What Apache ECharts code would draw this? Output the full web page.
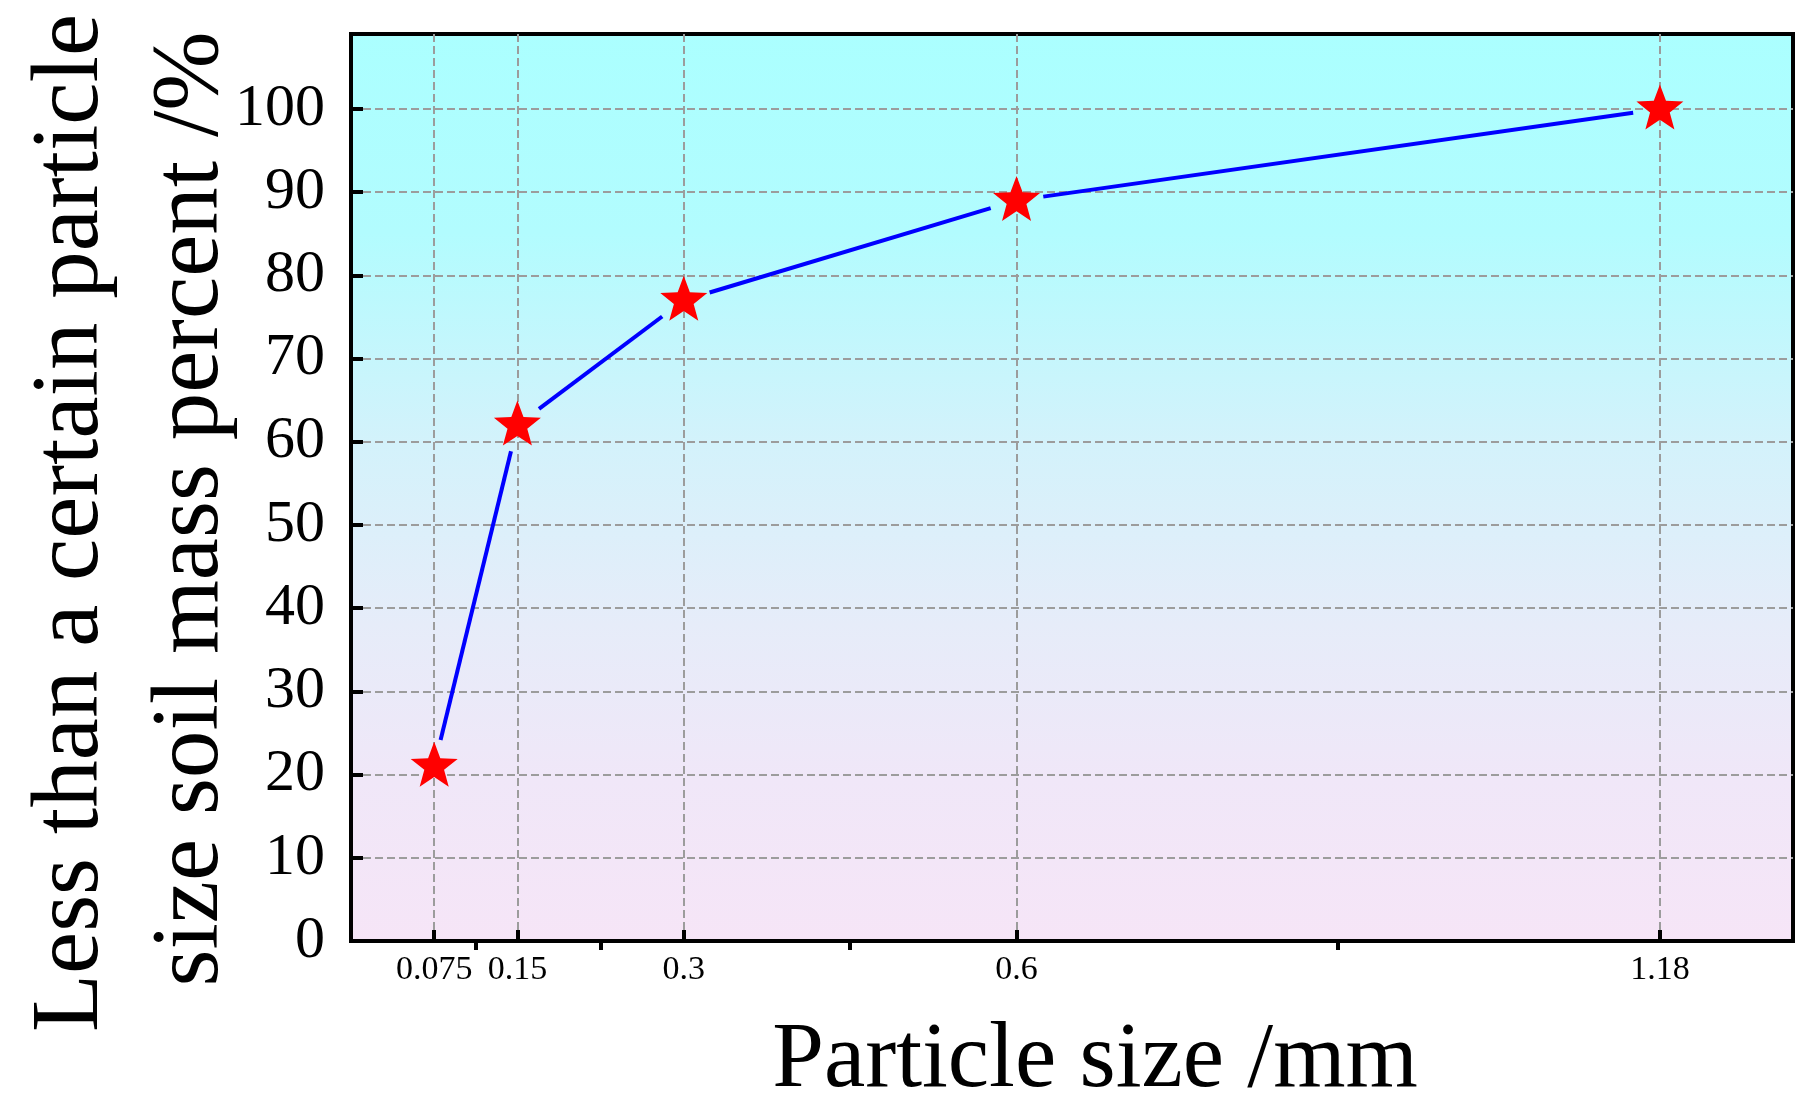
<!DOCTYPE html>
<html>
<head>
<meta charset="utf-8">
<script src="https://cdn.jsdelivr.net/npm/echarts@6/dist/echarts.min.js"></script>
<style>
html,body{margin:0;padding:0;background:#fff;}
#chart{width:1811px;height:1110px;}
</style>
</head>
<body>
<div id="chart"></div>
<script>
// ---- data ----
const particleSizes = [0.075, 0.15, 0.3, 0.6, 1.18];
const passingPercent = [21, 62, 77, 89, 100];
const xTickValues = [0.075, 0.15, 0.3, 0.6, 1.18];
const xMinorTickValues = [0.1125, 0.225, 0.45, 0.89];
const xTickLabels = ['0.075', '0.15', '0.3', '0.6', '1.18'];
const xTitle = 'Particle size /mm';
const yTitleLines = ['Less than a certain particle', 'size soil mass percent /%'];

// ---- styling helpers ----
const FONT = '"Liberation Serif", "Times New Roman", serif';
function starPath(inner) {
  const pts = [];
  for (let i = 0; i < 10; i++) {
    const r = i % 2 === 0 ? 1 : inner;
    const a = -Math.PI / 2 + i * Math.PI / 5;
    pts.push((r * Math.cos(a)).toFixed(4) + ' ' + (r * Math.sin(a)).toFixed(4));
  }
  return 'path://M' + pts.join(' L') + ' Z';
}

const points = particleSizes.map((s, i) => [s, passingPercent[i]]);
const segments = particleSizes.slice(0, -1).map((s, i) =>
  [s, passingPercent[i], particleSizes[i + 1], passingPercent[i + 1]]);

const GAP = 27;
const chart = echarts.init(document.getElementById('chart'));
chart.setOption({
  backgroundColor: '#ffffff',
  animation: false,
  grid: {
    left: 351, right: 18, top: 34, bottom: 169,
    show: true,
    borderColor: '#000', borderWidth: 4,
    backgroundColor: new echarts.graphic.LinearGradient(0, 0, 0, 1, [
      { offset: 0, color: '#abffff' },
      { offset: 0.22, color: '#b2fcfe' },
      { offset: 0.45, color: '#d3f2fb' },
      { offset: 0.65, color: '#e6ecf9' },
      { offset: 0.82, color: '#f0e7f8' },
      { offset: 1, color: '#f6e5f7' }
    ])
  },
  xAxis: [{
    type: 'value', min: 0, max: 1.3, position: 'bottom',
    axisLine: { show: true, lineStyle: { color: '#000', width: 4 } },
    axisTick: { show: true, inside: true, length: 11, customValues: xTickValues,
      lineStyle: { color: '#000', width: 4 } },
    axisLabel: { show: true, customValues: xTickValues, margin: 12,
      formatter: v => xTickLabels[xTickValues.indexOf(+v.toFixed(4))] ?? '',
      fontFamily: FONT, fontSize: 34, color: '#000' },
    splitLine: { show: true, lineStyle: { color: '#9c9c9c', width: 2, type: [8, 4] } }
  }, {
    type: 'value', min: 0, max: 1.3, position: 'bottom',
    axisLine: { show: false },
    axisTick: { show: true, inside: false, length: 9, customValues: xMinorTickValues,
      lineStyle: { color: '#000', width: 4 } },
    axisLabel: { show: false },
    splitLine: { show: false }
  }],
  yAxis: {
    type: 'value', min: 0, max: 109, interval: 10,
    axisLine: { show: true, lineStyle: { color: '#000', width: 4 } },
    axisTick: { show: true, inside: true, length: 12, lineStyle: { color: '#000', width: 4 } },
    axisLabel: { margin: 26, fontFamily: FONT, fontSize: 60, color: '#000',
      showMaxLabel: false,
      formatter: v => (v % 10 === 0 ? String(v) : '') },
    splitLine: { show: true, showMinLine: false, showMaxLine: false,
      lineStyle: { color: '#9c9c9c', width: 2, type: [8, 4] } }
  },
  graphic: [
    { type: 'text', x: 1095, y: 1062, style: { text: xTitle, font: '93px ' + FONT,
      fill: '#000', textAlign: 'center', textVerticalAlign: 'middle' } },
    { type: 'text', x: 72, y: 523, rotation: Math.PI / 2, style: { text: yTitleLines[0],
      font: '95px ' + FONT, fill: '#000', textAlign: 'center', textVerticalAlign: 'middle' } },
    { type: 'text', x: 192, y: 509, rotation: Math.PI / 2, style: { text: yTitleLines[1],
      font: '95px ' + FONT, fill: '#000', textAlign: 'center', textVerticalAlign: 'middle' } }
  ],
  series: [{
    type: 'custom',
    xAxisIndex: 0,
    data: segments,
    encode: { x: [0, 2], y: [1, 3] },
    renderItem: (params, api) => {
      const p1 = api.coord([api.value(0), api.value(1)]);
      const p2 = api.coord([api.value(2), api.value(3)]);
      const dx = p2[0] - p1[0], dy = p2[1] - p1[1];
      const len = Math.sqrt(dx * dx + dy * dy);
      const ux = dx / len, uy = dy / len;
      return {
        type: 'line',
        shape: { x1: p1[0] + ux * GAP, y1: p1[1] + uy * GAP, x2: p2[0] - ux * GAP, y2: p2[1] - uy * GAP },
        style: { stroke: '#0000ff', lineWidth: 4 }
      };
    },
    z: 2
  }, {
    type: 'scatter',
    xAxisIndex: 0,
    data: points,
    symbol: starPath(0.42),
    symbolSize: [47, 45],
    symbolOffset: [0, -2],
    itemStyle: { color: '#ff0000', opacity: 1 },
    z: 3
  }]
});
</script>
</body>
</html>
